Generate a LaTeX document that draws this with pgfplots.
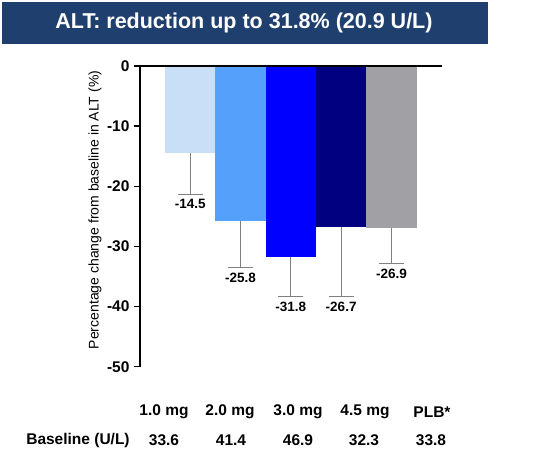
\documentclass[border=0pt]{standalone}
\usepackage{fontspec}
\setmainfont{Liberation Sans}
\usepackage{pgfplots}
\pgfplotsset{compat=1.18}
\definecolor{titleblue}{HTML}{1F3F6E}
\definecolor{cA}{HTML}{C9DEF7}
\definecolor{cB}{HTML}{55A0FA}
\definecolor{cC}{HTML}{0000FF}
\definecolor{cD}{HTML}{000080}
\definecolor{cE}{HTML}{A1A0A4}
\definecolor{errgray}{HTML}{808080}
\begin{document}
\begin{tikzpicture}
\path[use as bounding box] (0pt,0pt) rectangle (558pt,458pt);
% title bar
\fill[titleblue] (2pt,414pt) rectangle (488pt,456pt);
\node[white, font=\bfseries\fontsize{21.5}{24}\selectfont] at (244pt,435pt) {ALT: reduction up to 31.8\% (20.9 U/L)};
\begin{axis}[
  at={(140pt,91.3pt)}, anchor=south west,
  scale only axis, width=301.7pt, height=300.7pt,
  xmin=0, xmax=6, ymin=-50, ymax=0,
  axis x line*=top, axis y line*=left,
  axis line style={-, black, line width=1.8pt},
  axis on top,
  xtick=\empty,
  ytick={-50,-40,-30,-20,-10,0},
  yticklabels={{-50},{-40},{-30},{-20},{-10},{0}},
  tick align=outside, major tick length=6pt,
  tick style={black, line width=1.5pt},
  yticklabel style={font=\bfseries\fontsize{15.5}{17}\selectfont, xshift=-1pt},
  clip=false,
  error bars/error bar style={errgray, line width=1.1pt},
  error bars/error mark options={errgray, line width=1.1pt, mark size=12.5pt, rotate=90},
]
\addplot[ybar, bar width=1, bar shift=0pt, fill=cA, draw=none,
  error bars/.cd, y dir=minus, y explicit] coordinates {(1,-14.5) +- (0,6.8)};
\addplot[ybar, bar width=1, bar shift=0pt, fill=cB, draw=none,
  error bars/.cd, y dir=minus, y explicit] coordinates {(2,-25.8) +- (0,7.7)};
\addplot[ybar, bar width=1, bar shift=0pt, fill=cC, draw=none,
  error bars/.cd, y dir=minus, y explicit] coordinates {(3,-31.8) +- (0,6.5)};
\addplot[ybar, bar width=1, bar shift=0pt, fill=cD, draw=none,
  error bars/.cd, y dir=minus, y explicit] coordinates {(4,-26.7) +- (0,11.6)};
\addplot[ybar, bar width=1, bar shift=0pt, fill=cE, draw=none,
  error bars/.cd, y dir=minus, y explicit] coordinates {(5,-26.9) +- (0,6.0)};
\begin{scope}[every node/.style={anchor=north, yshift=-2pt, font=\bfseries\fontsize{13.5}{15}\selectfont}]
\node at (axis cs:1,-21.3) {-14.5};
\node at (axis cs:2,-33.5) {-25.8};
\node at (axis cs:3,-38.3) {-31.8};
\node at (axis cs:4,-38.3) {-26.7};
\node at (axis cs:5,-32.9) {-26.9};
\end{scope}
\end{axis}
% y label
\node[rotate=90, font=\fontsize{14}{16}\selectfont] at (95pt,248pt) {Percentage change from baseline in ALT (\%)};
% table below
\begin{scope}[every node/.style={font=\bfseries\fontsize{15.5}{18}\selectfont}]
\node at (164pt,46pt) {1.0 mg};
\node at (230pt,46pt) {2.0 mg};
\node at (298pt,46pt) {3.0 mg};
\node at (365pt,46pt) {4.5 mg};
\node at (432pt,46pt) {PLB*};
\node at (78pt,18pt) {Baseline (U/L)};
\node at (164pt,18pt) {33.6};
\node at (231pt,18pt) {41.4};
\node at (298pt,18pt) {46.9};
\node at (364pt,18pt) {32.3};
\node at (431pt,18pt) {33.8};
\end{scope}
\end{tikzpicture}
\end{document}
